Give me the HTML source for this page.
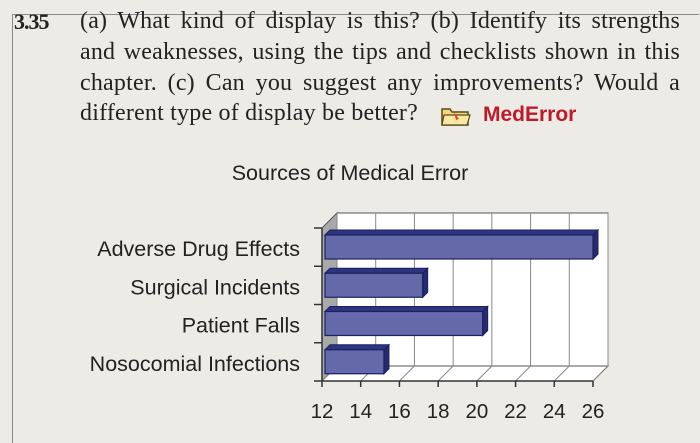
<!DOCTYPE html>
<html><head><meta charset="utf-8"><style>
body{margin:0;background:#ecebe6;}
#wrap{position:relative;width:700px;height:443px;overflow:hidden;background:#ecebe6;}
#box{position:absolute;left:12px;top:14px;width:686px;height:428px;border-left:1.5px solid #8a8a8a;border-top:1.5px solid #8a8a8a;}
.q{position:absolute;font-family:"Liberation Serif",serif;font-size:24px;letter-spacing:0.2px;color:#222;}
.line{position:absolute;left:80px;width:600px;text-align:justify;text-align-last:justify;white-space:nowrap;}
</style></head><body>
<div id="wrap">
<div id="box"></div>
<div class="q" style="left:14px;top:9px;font-weight:bold;letter-spacing:-1px;font-size:22px">3.35</div>
<div class="q line" style="top:8px">(a) What kind of display is this? (b) Identify its strengths</div>
<div class="q line" style="top:39px">and weaknesses, using the tips and checklists shown in this</div>
<div class="q line" style="top:70px">chapter. (c) Can you suggest any improvements? Would a</div>
<div class="q" style="left:80px;top:100px">different type of display be better?</div>
<svg style="position:absolute;left:440px;top:104px" width="32" height="24">
<path d="M2 5 L10 5 L12 8 L28 8 L28 21 L2 21 Z" fill="#f6d77a" stroke="#5a4a1a" stroke-width="1.5"/>
<path d="M4 11 L30 11 L27 21 L2 21 Z" fill="#fbe7a4" stroke="#5a4a1a" stroke-width="1.2"/>
<path d="M14 8 L19 15 L16 16 Z" fill="#e24a2a"/></svg>
<div style="position:absolute;left:483px;top:103px;font-family:'Liberation Sans',sans-serif;font-weight:bold;font-size:21px;color:#c01a28">MedError</div>
<svg id="chart" style="position:absolute;left:0;top:0" width="700" height="443"></svg>
</div>
<script>
const categories=["Adverse Drug Effects","Surgical Incidents","Patient Falls","Nosocomial Infections"];
const values=[26,17.2,20.3,15.2];
const ticks=[12,14,16,18,20,22,24,26];
const NS="http://www.w3.org/2000/svg";
const svg=document.getElementById('chart');
const x0=322,x1=593,yTop=228,yBot=381,D=15;
const xs=v=>x0+(v-12)/(26-12)*(x1-x0);
const band=(yBot-yTop)/categories.length;
function el(t,a,p){const e=document.createElementNS(NS,t);for(const k in a)e.setAttribute(k,a[k]);(p||svg).appendChild(e);return e;}
const f="'Liberation Sans',sans-serif";
const title=el('text',{x:350,y:180,'text-anchor':'middle','font-family':f,'font-size':21.5,fill:'#222'});
title.textContent='Sources of Medical Error';


const wall=el('rect',{x:x0+D,y:yTop-D,width:x1-x0,height:yBot-yTop,fill:'#fff',stroke:'#555','stroke-width':1});


const side=el('polygon',{points:`${x0},${yTop} ${x0+D},${yTop-D} ${x0+D},${yBot-D} ${x0},${yBot}`,fill:'#a9a9a9',stroke:'#555','stroke-width':1});


const floor=el('polygon',{points:`${x0},${yBot} ${x0+D},${yBot-D} ${x1+D},${yBot-D} ${x1},${yBot}`,fill:'#fff',stroke:'#555','stroke-width':1});


ticks.forEach(t=>{
  const x=xs(t);
  const g=el('line',{x1:x+D,y1:yTop-D,x2:x+D,y2:yBot-D,stroke:'#888','stroke-width':1});
  
  
  el('line',{x1:x,y1:yBot,x2:x+D,y2:yBot-D,stroke:'#888','stroke-width':1});
  const tk=el('line',{x1:x,y1:yBot,x2:x,y2:yBot+6,stroke:'#333','stroke-width':1.5});
  
  
  const tl=el('text',{x:x,y:418,'text-anchor':'middle','font-family':f,'font-size':20.5,fill:'#222'});
  tl.textContent=t;
  
  
});
el('line',{x1:x0,y1:yTop,x2:x0,y2:yBot,stroke:'#333','stroke-width':1.5});
el('line',{x1:x0,y1:yBot,x2:x1,y2:yBot,stroke:'#333','stroke-width':1.5});
for(let i=0;i<=categories.length;i++){
  const y=yTop+i*band;
  el('line',{x1:x0-8,y1:y,x2:x0,y2:y,stroke:'#333','stroke-width':1.5});
}
categories.forEach((c,i)=>{
  const top=yTop+i*band+7,h=24,d=5,xa=x0+3,xb=xs(values[i]);
  const g=el('g',{});
  
  
  el('polygon',{points:`${xa},${top} ${xa+d},${top-d} ${xb+d},${top-d} ${xb},${top}`,fill:'#2e3580',stroke:'#1c2060','stroke-width':1},g);
  el('polygon',{points:`${xb},${top} ${xb+d},${top-d} ${xb+d},${top+h-d} ${xb},${top+h}`,fill:'#262b70',stroke:'#1c2060','stroke-width':1},g);
  el('rect',{x:xa,y:top,width:xb-xa,height:h,fill:'#6469aa',stroke:'#1c2060','stroke-width':1.2},g);
  const l=el('text',{x:300,y:yTop+i*band+band/2+9,'text-anchor':'end','font-family':f,'font-size':21.5,fill:'#222'});
  l.textContent=c;
  
  
});
</script>
</body></html>
